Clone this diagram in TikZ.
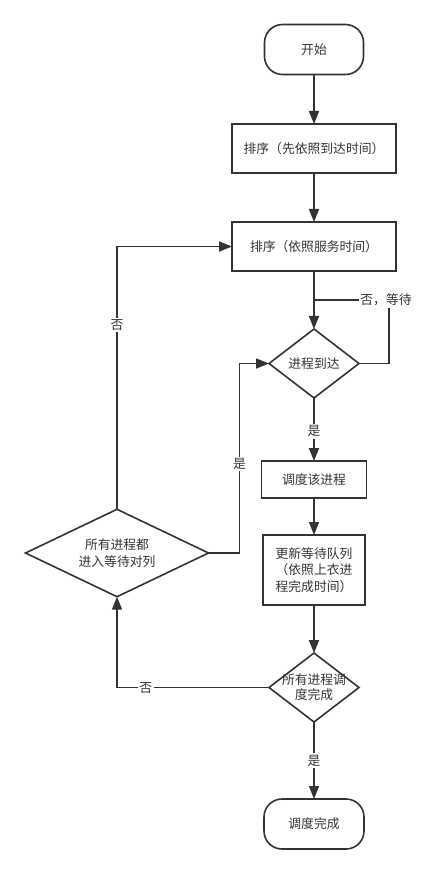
\documentclass[tikz,border=0pt]{standalone}
\usepackage{fontspec}
\newfontfamily\cjk{Noto Sans CJK SC}
\usepackage{xcolor}
\usepackage{tikz}
\usetikzlibrary{shapes.geometric, arrows.meta, positioning, calc}
\definecolor{ink}{HTML}{333333}

\begin{document}
\begin{tikzpicture}[
    node distance=0.5cm,
    every node/.style={font=\cjk\fontsize{12.8}{16.5}\selectfont, text=ink},
    term/.style={rectangle, rounded corners=18pt, draw=ink, line width=1.6pt, outer sep=0pt, minimum width=100pt, minimum height=50pt, align=center},
    proc/.style={rectangle, draw=ink, line width=1.6pt, outer sep=0pt, minimum height=49pt, align=center},
    decision/.style={diamond, draw=ink, line width=1.6pt, outer sep=0pt, aspect=1.3, inner sep=0pt, minimum width=90pt, minimum height=69pt, align=center},
    link/.style={draw=ink, line width=1.6pt},
    flow/.style={link, -{Triangle[length=13pt, width=10pt]}},
    lbl/.style={fill=white, inner sep=1.5pt}
]
\useasboundingbox (0,0) rectangle (425pt,-874pt);

% main column
\node[term, minimum width=99pt] (start) at (314pt,-49.5pt) {开始};
\node[proc, minimum width=164pt, below=49.5pt of start] (sort1) {排序（先依照到达时间）};
\node[proc, minimum width=164pt, below=49pt of sort1] (sort2) {排序（依照服务时间）};
\node[decision, below=58pt of sort2] (arrive) {进程到达};
\node[proc, minimum width=105pt, minimum height=37pt, below=63pt of arrive] (run) {调度该进程};
\node[proc, minimum width=102pt, minimum height=70pt, below=37pt of run] (update) {更新等待队列\\（依照上衣进\\程完成时间）};
\node[decision, inner sep=-7pt, font=\cjk\fontsize{12.8}{15}\selectfont, below=48pt of update] (alldone) {所有进程调\\度完成};
\node[term, below=77pt of alldone] (finish) {调度完成};

% side decision
\node[decision, minimum width=183pt, minimum height=78pt] (allwait) at (117pt,-553pt) {所有进程都\\进入等待对列};

\coordinate (join) at ($(sort2.south)!0.5!(arrive.north)$);
\coordinate (waitc) at ($(join)+(75pt,0)$);

\draw[flow] (start) -- (sort1);
\draw[flow] (sort1) -- (sort2);
\draw[flow] (sort2) -- (arrive);
\draw[link] (arrive.east) -| (waitc) node[lbl, xshift=-3pt] {否，等待} -- (join);
\draw[flow] (arrive) -- node[lbl, pos=0.53] {是} (run);
\draw[flow] (run) -- (update);
\draw[flow] (update) -- (alldone);
\draw[flow] (alldone) -- node[lbl, pos=0.5] {是} (finish);
\draw[flow] (alldone.west) -| node[lbl, pos=0.405] {否} (allwait.south);
\draw[flow] (allwait.north) |- node[lbl, pos=0.35] {否} (sort2.west);
\draw[flow] (allwait.east) -- ++(31pt,0) |- node[lbl, pos=0.235] {是} (arrive.west);

\end{tikzpicture}
\end{document}
